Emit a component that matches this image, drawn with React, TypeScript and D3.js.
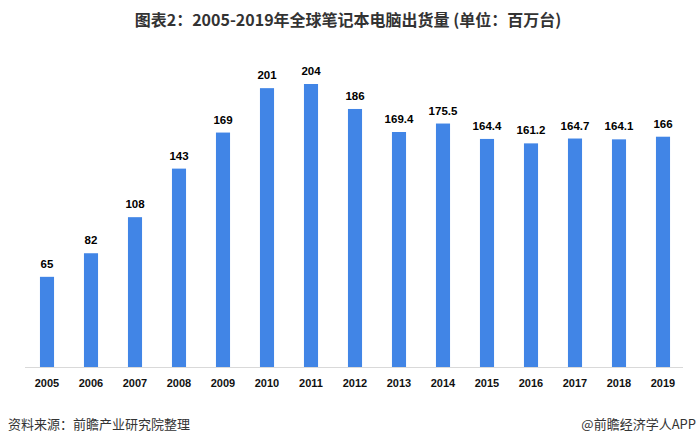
import React from 'react';
import * as d3 from 'd3';

const years = ['2005', '2006', '2007', '2008', '2009', '2010', '2011', '2012', '2013', '2014', '2015', '2016', '2017', '2018', '2019'];
const shipments = [65, 82, 108, 143, 169, 201, 204, 186, 169.4, 175.5, 164.4, 161.2, 164.7, 164.1, 166];

const width = 697;
const height = 445;
const margin = { left: 25, right: 12, top: 83, bottom: 78 };
const baseY = height - margin.bottom; // 367

const App = () => {
  const x = d3
    .scaleBand()
    .domain(years)
    .range([margin.left, width - margin.right])
    .paddingInner(0.68)
    .paddingOuter(0.34);

  const y = d3.scaleLinear().domain([0, 204]).range([baseY, margin.top + 1]);

  const numFont = '"Liberation Sans", Arial, sans-serif';
  const cjkFont = '"Noto Sans CJK SC", "Microsoft YaHei", sans-serif';

  return (
    <svg width={width} height={height} style={{ position: 'absolute', left: 0, top: 0, background: '#fff' }}>
      <text x={348} y={26} textAnchor="middle" fontFamily={cjkFont} fontWeight="bold" fontSize={16} fill="#333">
        图表2：2005-2019年全球笔记本电脑出货量 (单位：百万台)
      </text>

      <line x1={margin.left} x2={width - margin.right - 2} y1={baseY + 0.5} y2={baseY + 0.5} stroke="#d9d9d9" />

      {years.map((yr, i) => (
        <g key={yr}>
          <rect
            x={x(yr)}
            y={y(shipments[i])}
            width={x.bandwidth()}
            height={baseY - y(shipments[i])}
            fill="#4185e6"
          />
          <text
            x={(x(yr) as number) + x.bandwidth() / 2}
            y={y(shipments[i]) - 9}
            textAnchor="middle"
            fontFamily={numFont}
            fontWeight="bold"
            fontSize={11.5}
            fill="#000"
          >
            {shipments[i]}
          </text>
          <text
            x={(x(yr) as number) + x.bandwidth() / 2}
            y={387}
            textAnchor="middle"
            fontFamily={numFont}
            fontWeight="bold"
            fontSize={11}
            fill="#111"
          >
            {yr}
          </text>
        </g>
      ))}

      <text x={8} y={429} fontFamily={cjkFont} fontSize={13} fill="#333">
        资料来源：前瞻产业研究院整理
      </text>
      <text x={696} y={429} textAnchor="end" fontFamily={cjkFont} fontSize={13} fill="#333">
        @前瞻经济学人APP
      </text>
    </svg>
  );
};

export default App;
